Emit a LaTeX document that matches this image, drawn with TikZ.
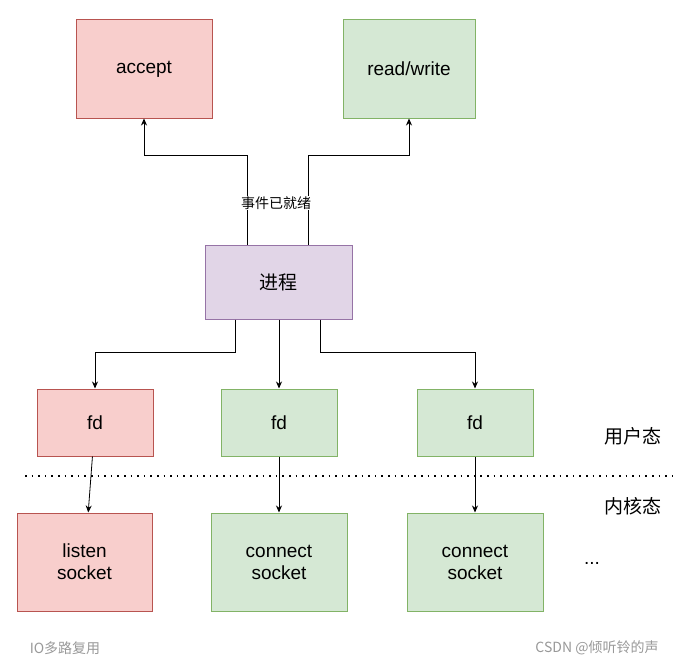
\documentclass[tikz,border=0pt]{standalone}
\usepackage{fontspec}
\setmainfont{Liberation Sans}
\newfontfamily\cjk{Noto Sans CJK SC}
\usetikzlibrary{arrows.meta}
\definecolor{rf}{HTML}{F8CECC}\definecolor{rd}{HTML}{B85450}
\definecolor{gf}{HTML}{D5E8D4}\definecolor{gd}{HTML}{82B366}
\definecolor{pf}{HTML}{E1D5E7}\definecolor{pd}{HTML}{9673A6}
\begin{document}
\begin{tikzpicture}[x=1pt,y=-1pt,
 redbox/.style={draw=rd,fill=rf,line width=1pt,font=\fontsize{19}{22}\selectfont,align=center},
 greenbox/.style={draw=gd,fill=gf,line width=1pt,font=\fontsize{19}{22}\selectfont,align=center},
 conn/.style={-{Stealth[length=7pt,width=6pt]},line width=0.8pt}]
\useasboundingbox (0,0) rectangle (699,669);
\fill[white] (0,0) rectangle (699,669);
\node[redbox,minimum width=136pt,minimum height=98pt] (acc) at (144,69) {accept};
\node[greenbox,minimum width=132pt,minimum height=98pt] (rw) at (409,69) {read/write};
\node[draw=pd,fill=pf,line width=1pt,minimum width=147pt,minimum height=74pt,font=\cjk\fontsize{19}{22}\selectfont] (p) at (278.5,282) {进程};
\node[redbox,minimum width=116pt,minimum height=67pt] (f1) at (95,422.5) {fd};
\node[greenbox,minimum width=116pt,minimum height=67pt] (f2) at (279,422.5) {fd};
\node[greenbox,minimum width=116pt,minimum height=67pt] (f3) at (475,422.5) {fd};
\node[redbox,minimum width=135pt,minimum height=98pt] (s1) at (84.5,562) {listen\\socket};
\node[greenbox,minimum width=136pt,minimum height=98pt] (s2) at (279,562) {connect\\socket};
\node[greenbox,minimum width=136pt,minimum height=98pt] (s3) at (475,562) {connect\\socket};
\coordinate (a1) at (247,155); \coordinate (a2) at (308,155);
\draw[conn] (p.north -| a1) -- (a1) -| (acc.south);
\draw[conn] (p.north -| a2) -- (a2) -| (rw.south);
\node[fill=white,inner sep=1pt,font=\cjk\fontsize{14}{16}\selectfont] (lab) at (276,203) {事件已就绪};
\coordinate (b1) at (235,352); \coordinate (b3) at (320,352);
\draw[conn] (p.south -| b1) -- (b1) -| (f1.north);
\draw[conn] (p.south -| f2) -- (f2.north);
\draw[conn] (p.south -| b3) -- (b3) -| (f3.north);
\draw[conn] (f1) -- (s1);
\draw[conn] (f2) -- (s2);
\draw[conn] (f3) -- (s3);
\draw[line width=1.6pt,dash pattern=on 1.6pt off 5pt] (25,476) -- (672,476);
\node[font=\cjk\fontsize{19}{22}\selectfont] (u) at (633,436) {用户态};
\node[font=\cjk\fontsize{19}{22}\selectfont] (k) at (633,506) {内核态};
\node[font=\fontsize{19}{22}\selectfont] (dots) at (592,563) {...};
\node[text=gray!80,font=\cjk\fontsize{14}{16}\selectfont] (w1) at (65,648) {IO多路复用};
\node[text=gray!80,font=\cjk\fontsize{14}{16}\selectfont] (w2) at (597,648) {CSDN @倾听铃的声};
\end{tikzpicture}
\end{document}
